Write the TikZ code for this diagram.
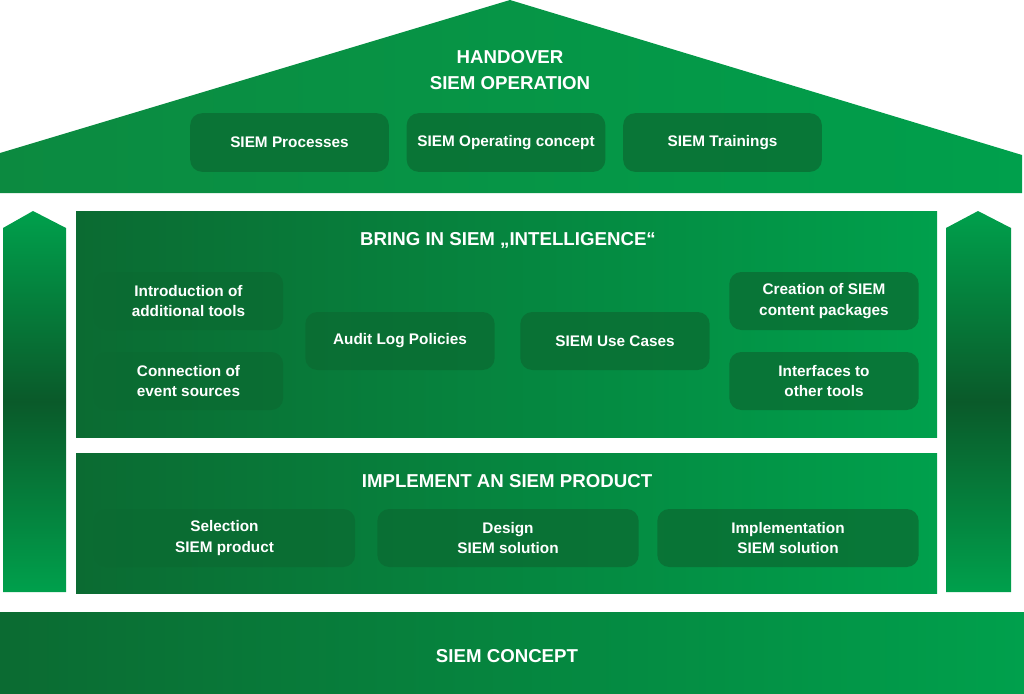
\documentclass[tikz,border=0pt]{standalone}
\usepackage{fontspec}
\setmainfont{Liberation Sans}
\begin{document}
\begin{tikzpicture}[x=0.75pt,y=-0.75pt,
 box/.style={fill=gdark,fill opacity=0.75,text opacity=1,rounded corners=9pt,text=white,font=\bfseries\fontsize{11.5}{15.5}\selectfont,align=center,inner sep=0pt},
 ttl/.style={text=white,font=\bfseries\fontsize{14}{19}\selectfont,align=center}]
\definecolor{glight}{HTML}{00A04C}
\definecolor{gmid}{HTML}{0C8A40}
\definecolor{gdark}{HTML}{0B6B32}
\definecolor{gdeep}{HTML}{0A5A2A}
\useasboundingbox (0,0) rectangle (1024,693);
% roof
\shade[left color=gmid,right color=glight] (0,153) -- (510,0) -- (1022,155) -- (1022,193) -- (0,193) -- cycle;
% pillars
\shade[top color=glight,bottom color=glight,middle color=gdeep] (3,228) -- (33,211) -- (66,228) -- (66,592) -- (3,592) -- cycle;
\shade[top color=glight,bottom color=glight,middle color=gdeep] (946,228) -- (978,211) -- (1011,228) -- (1011,592) -- (946,592) -- cycle;
% boxes
\shade[left color=gdark,right color=glight] (76,211) rectangle (937,437);
\shade[left color=gdark,right color=glight] (76,453) rectangle (937,593);
\shade[left color=gdark,right color=glight] (0,612) rectangle (1024,693);
% titles
\node[ttl] (t1) at (510,70) {HANDOVER\\SIEM OPERATION};
\node[ttl] (t2) at (508,240) {BRING IN SIEM „INTELLIGENCE“};
\node[ttl] (t3) at (507,481) {IMPLEMENT AN SIEM PRODUCT};
\node[ttl] (t4) at (507,656) {SIEM CONCEPT};
% roof boxes
\node[box,minimum width=149pt,minimum height=44pt] (r1) at (289.5,142.5) {SIEM Processes};
\node[box,minimum width=149pt,minimum height=44pt] (r2) at (506,142.5) {SIEM Operating concept};
\node[box,minimum width=149pt,minimum height=44pt] (r3) at (722.5,142.5) {SIEM Trainings};
% middle
\node[box,minimum width=142pt,minimum height=43.5pt] (m1) at (188.5,301) {Introduction of\\additional tools};
\node[box,minimum width=142pt,minimum height=43.5pt] (m2) at (188.5,381) {Connection of\\event sources};
\node[box,minimum width=142pt,minimum height=43.5pt] (m3) at (400,341) {Audit Log Policies};
\node[box,minimum width=142pt,minimum height=43.5pt] (m4) at (615,341) {SIEM Use Cases};
\node[box,minimum width=142pt,minimum height=43.5pt] (m5) at (824,301) {Creation of SIEM\\content packages};
\node[box,minimum width=142pt,minimum height=43.5pt] (m6) at (824,381) {Interfaces to\\other tools};
% lower
\node[box,minimum width=196pt,minimum height=43.5pt] (l1) at (224.5,538) {Selection\\SIEM product};
\node[box,minimum width=196pt,minimum height=43.5pt] (l2) at (508,538) {Design\\SIEM solution};
\node[box,minimum width=196pt,minimum height=43.5pt] (l3) at (788,538) {Implementation\\SIEM solution};
\end{tikzpicture}
\end{document}
